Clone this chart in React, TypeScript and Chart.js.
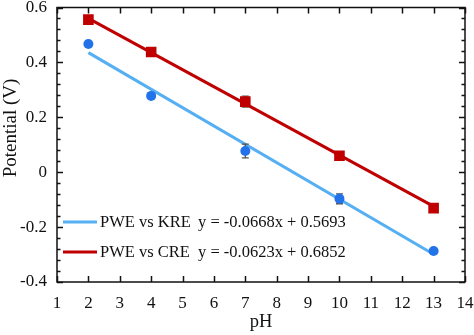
import { useEffect, useRef } from 'react';
import { Chart, registerables } from 'chart.js';

Chart.register(...registerables);

// ---- data ----
const phValues = [2, 4, 7, 10, 13];
const kreValues = [0.467, 0.278, 0.077, -0.097, -0.287];
const kreErrors = [0, 0, 0.025, 0.018, 0];
const creValues = [0.556, 0.438, 0.257, 0.06, -0.131];
const creErrors = [0, 0, 0.02, 0, 0];

const fitX = [2, 13];
const kreFitY = [0.4357, -0.2991];
const creFitY = [0.5606, -0.1247];

const legendLabels = ['PWE vs KRE', 'PWE vs CRE'];
const equations = ['y = -0.0668x + 0.5693', 'y = -0.0623x + 0.6852'];

const xTitle = 'pH';
const yTitle = 'Potential (V)';

const xMin = 1, xMax = 14, xStep = 1;
const yMin = -0.4, yMax = 0.6, yStep = 0.2, yMinorStep = 0.04;

// ---- styles ----
const FONT = '"Liberation Serif", "Times New Roman", serif';
const KRE_POINT = '#2272e9';
const KRE_LINE = '#55aff2';
const CRE_COLOR = '#c00000';
const ERR_COLOR = '#555555';

const toPoints = (xs: number[], ys: number[]) => xs.map((x, i) => ({ x, y: ys[i] }));

const errorBarPlugin = {
  id: 'errorBars',
  beforeDatasetDraw(chart: any, args: any) {
    if (args.index !== 1) return;
    const { ctx, scales } = chart;
    const xs = scales.x, ys = scales.y;
    ctx.save();
    ctx.strokeStyle = ERR_COLOR;
    ctx.lineWidth = 1.3;
    const draw = (vals: number[], errs: number[]) => {
      phValues.forEach((p, i) => {
        const e = errs[i];
        if (!e) return;
        const x = xs.getPixelForValue(p);
        const y1 = ys.getPixelForValue(vals[i] + e);
        const y2 = ys.getPixelForValue(vals[i] - e);
        ctx.beginPath();
        ctx.moveTo(x, y1); ctx.lineTo(x, y2);
        ctx.moveTo(x - 3.5, y1); ctx.lineTo(x + 3.5, y1);
        ctx.moveTo(x - 3.5, y2); ctx.lineTo(x + 3.5, y2);
        ctx.stroke();
      });
    };
    draw(kreValues, kreErrors);
    draw(creValues, creErrors);
    ctx.restore();
  },
};

const framePlugin = {
  id: 'frame',
  afterDraw(chart: any) {
    const { ctx, chartArea: a, scales } = chart;
    const xs = scales.x, ys = scales.y;
    ctx.save();
    ctx.strokeStyle = '#111';
    ctx.lineWidth = 1.5;
    ctx.strokeRect(a.left, a.top, a.right - a.left, a.bottom - a.top);
    ctx.beginPath();
    // x ticks (bottom and top, inward)
    xs.ticks.forEach((t: any) => {
      const x = Math.round(xs.getPixelForValue(t.value)) + 0.5;
      ctx.moveTo(x, a.bottom); ctx.lineTo(x, a.bottom - 6);
      ctx.moveTo(x, a.top); ctx.lineTo(x, a.top + 6);
    });
    // y major ticks
    ys.ticks.forEach((t: any) => {
      const y = Math.round(ys.getPixelForValue(t.value)) + 0.5;
      ctx.moveTo(a.left, y); ctx.lineTo(a.left + 6, y);
      ctx.moveTo(a.right, y); ctx.lineTo(a.right - 6, y);
    });
    // y minor ticks
    const n = Math.round((yMax - yMin) / yMinorStep);
    for (let i = 1; i < n; i++) {
      const v = yMin + i * yMinorStep;
      const y = Math.round(ys.getPixelForValue(v)) + 0.5;
      ctx.moveTo(a.left, y); ctx.lineTo(a.left + 3.5, y);
      ctx.moveTo(a.right, y); ctx.lineTo(a.right - 3.5, y);
    }
    ctx.stroke();

    // axis titles
    ctx.fillStyle = '#111';
    ctx.font = `18.5px ${FONT}`;
    ctx.textAlign = 'center';
    ctx.textBaseline = 'alphabetic';
    ctx.fillText(xTitle, (a.left + a.right) / 2, 327);
    ctx.save();
    ctx.translate(16, 128);
    ctx.rotate(-Math.PI / 2);
    ctx.font = `19px ${FONT}`;
    ctx.fillText(yTitle, 0, 0);
    ctx.restore();

    // legend
    const rows = [
      { color: KRE_LINE, y: 222 },
      { color: CRE_COLOR, y: 252 },
    ];
    rows.forEach((r, i) => {
      ctx.strokeStyle = r.color;
      ctx.lineWidth = 3;
      ctx.beginPath();
      ctx.moveTo(63, r.y); ctx.lineTo(97, r.y);
      ctx.stroke();
      ctx.fillStyle = '#111';
      ctx.font = `16.5px ${FONT}`;
      ctx.textAlign = 'left';
      ctx.textBaseline = 'middle';
      ctx.fillText(legendLabels[i], 100, r.y + 1);
      ctx.fillText(equations[i], 198, r.y + 1);
    });
    ctx.restore();
  },
};

export default function App() {
  const ref = useRef<HTMLCanvasElement>(null);
  useEffect(() => {
    document.body.style.margin = '0';
    const chart = new Chart(ref.current!, {
      type: 'scatter',
      data: {
        datasets: [
          {
            label: legendLabels[0],
            data: toPoints(phValues, kreValues),
            pointStyle: 'circle',
            pointRadius: 5,
            backgroundColor: KRE_POINT,
            borderColor: KRE_POINT,
            borderWidth: 0,
          },
          {
            label: legendLabels[1],
            data: toPoints(phValues, creValues),
            pointStyle: 'rect',
            pointRadius: 7.5,
            backgroundColor: CRE_COLOR,
            borderColor: CRE_COLOR,
            borderWidth: 0,
          },
          {
            label: 'KRE fit',
            data: toPoints(fitX, kreFitY),
            showLine: true,
            pointRadius: 0,
            borderColor: KRE_LINE,
            borderWidth: 3,
          },
          {
            label: 'CRE fit',
            data: toPoints(fitX, creFitY),
            showLine: true,
            pointRadius: 0,
            borderColor: CRE_COLOR,
            borderWidth: 3,
          },
        ],
      },
      options: {
        responsive: false,
        animation: false,
        layout: { padding: { top: 6, right: 9, left: 0, bottom: 0 } },
        plugins: { legend: { display: false }, tooltip: { enabled: false } },
        scales: {
          x: {
            type: 'linear',
            min: xMin,
            max: xMax,
            grid: { display: false, drawTicks: false },
            border: { display: false },
            ticks: {
              stepSize: xStep,
              color: '#111',
              padding: 11,
              font: { family: FONT, size: 17 },
            },
            afterFit: (s: any) => {
              s.height = 53;
              s.paddingLeft = 0; s.paddingRight = 0;
              s.paddingTop = 0; s.paddingBottom = 0;
            },
          },
          y: {
            type: 'linear',
            min: yMin,
            max: yMax,
            grid: { display: false, drawTicks: false },
            border: { display: false },
            ticks: {
              stepSize: yStep,
              color: '#111',
              padding: 10,
              font: { family: FONT, size: 17 },
              callback: (v: any) => String(Number(Number(v).toFixed(1))),
            },
            afterFit: (s: any) => {
              s.width = 57;
              s.paddingLeft = 0; s.paddingRight = 0;
              s.paddingTop = 0; s.paddingBottom = 0;
            },
          },
        },
      },
      plugins: [errorBarPlugin, framePlugin],
    } as any);
    return () => chart.destroy();
  }, []);
  return (
    <div style={{ width: 474, height: 335 }}>
      <canvas ref={ref} width={474} height={335} />
    </div>
  );
}
